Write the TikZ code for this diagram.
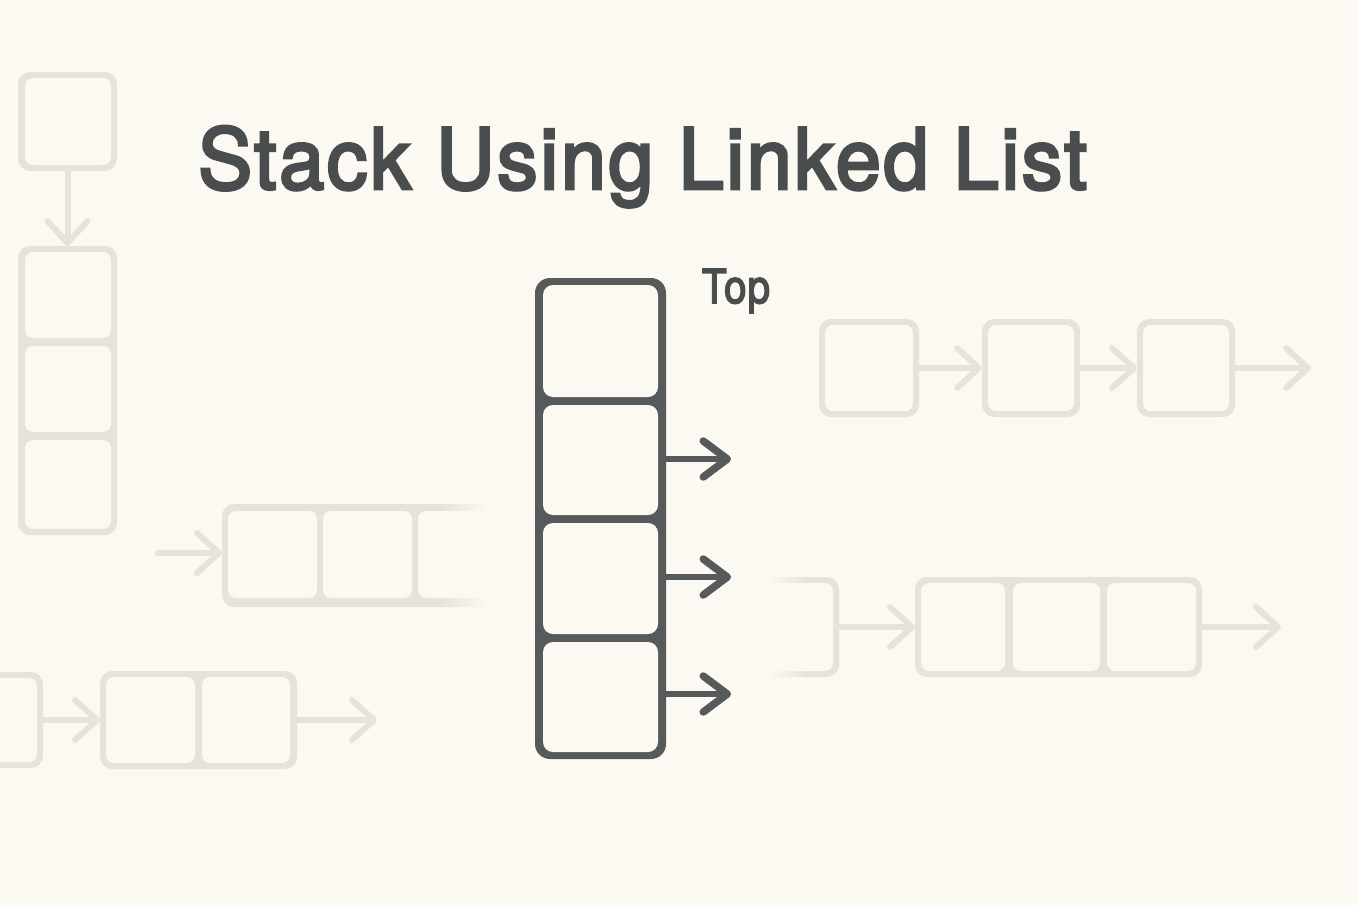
\documentclass[tikz,border=0pt]{standalone}
\usepackage{fontspec}
\usepackage{graphicx}
\newfontfamily\titlefont[FakeBold=3.5,LetterSpace=3]{TeX Gyre Heros}
\usetikzlibrary{arrows.meta,fit,fadings}
\definecolor{bg}{HTML}{FBF9F2}
\definecolor{faint}{HTML}{E6E3DB}
\definecolor{dark}{HTML}{565A5A}
\definecolor{ink}{HTML}{4A4D4D}
\tikzfading[name=opaqueR, left color=transparent!100, right color=transparent!0]
\tikzfading[name=opaqueL, left color=transparent!0, right color=transparent!100]
\tikzset{
  fframe/.style={fill=faint, draw=none, rounded corners=12pt, inner sep=0pt, outer sep=0pt},
  fcell/.style={fill=bg, draw=none, rounded corners=8pt, inner sep=0pt, outer sep=0pt},
  dframe/.style={fill=dark, draw=none, rounded corners=15pt, inner sep=0pt, outer sep=0pt},
  dcell/.style={fill=bg, draw=none, rounded corners=10pt, inner sep=0pt, outer sep=0pt},
  farrow/.style={draw=faint, line width=6pt, line cap=round,
    -{Straight Barb[length=22pt,width=40pt,round]}},
  darrow/.style={draw=dark, line width=6.5pt, line cap=round,
    -{Straight Barb[length=24pt,width=36pt,line width=7.5pt,round]}},
  txt/.style={inner sep=0pt, outer sep=0pt, anchor=base west, text=ink}
}
\begin{document}
\begin{tikzpicture}[x=1pt,y=-1pt]
\useasboundingbox (0,0) rectangle (1358,905);
\fill[bg] (0,0) rectangle (1358,905);
\clip (0,0) rectangle (1358,905);

% ---- faint background lists ----
% top-left single node and vertical list
\node[fframe, fit={(18,72)(117,171)}] (A) {};
\node[fcell, fit={(25,78)(111,165)}] (Ac) {};
\node[fframe, fit={(18,246)(117,535)}] (B) {};
\node[fcell, fit={(25,252)(111,338)}] (B1) {};
\node[fcell, fit={(25,346)(111,432)}] (B2) {};
\node[fcell, fit={(25,440)(111,529)}] (B3) {};
\draw[farrow] (A) -- (B);

% middle-left horizontal list (fading right)
\coordinate (cin) at (158,553);
\node[fframe, fit={(222,504)(500,607)}] (C) {};
\node[fcell, fit={(228,511)(317,598)}] (C1) {};
\node[fcell, fit={(323,511)(412,598)}] (C2) {};
\node[fcell, fit={(418,511)(494,598)}] (C3) {};
\draw[farrow] (cin) -- (cin -| C.west);
\fill[bg, path fading=opaqueR] (440,496) rectangle (486,615);
\fill[bg] (486,496) rectangle (520,615);

% bottom-left list
\node[fframe, fit={(-40,672)(43,768)}] (Dp) {};
\node[fcell, fit={(-40,678)(37,762)}] (Dpc) {};
\node[fframe, fit={(100,671)(297,769)}] (D) {};
\node[fcell, fit={(106,677)(195,763)}] (D1) {};
\node[fcell, fit={(202,677)(290,763)}] (D2) {};
\coordinate (dend) at (377,720);
\draw[farrow] (Dp) -- (D);
\draw[farrow] (D.east |- dend) -- (dend);

% right top list
\node[fframe, fit={(819,319)(919,417)}] (E1) {};
\node[fcell, fit={(825,325)(913,411)}] (E1c) {};
\node[fframe, fit={(982,319)(1080,417)}] (E2) {};
\node[fcell, fit={(988,325)(1074,411)}] (E2c) {};
\node[fframe, fit={(1137,319)(1235,417)}] (E3) {};
\node[fcell, fit={(1143,325)(1229,411)}] (E3c) {};
\coordinate (eend) at (1311,368);
\draw[farrow] (E1) -- (E2);
\draw[farrow] (E2) -- (E3);
\draw[farrow] (E3.east |- eend) -- (eend);

% right middle list (fading left)
\node[fframe, fit={(740,577)(839,677)}] (Fp) {};
\node[fcell, fit={(740,583)(833,671)}] (Fpc) {};
\node[fframe, fit={(915,577)(1202,677)}] (F) {};
\node[fcell, fit={(921,583)(1005,671)}] (F1) {};
\node[fcell, fit={(1013,583)(1100,671)}] (F2) {};
\node[fcell, fit={(1107,583)(1196,671)}] (F3) {};
\coordinate (fend) at (1281,627);
\draw[farrow] (Fp) -- (F);
\draw[farrow] (F.east |- fend) -- (fend);
\fill[bg] (735,570) rectangle (770,684);
\fill[bg, path fading=opaqueL] (770,570) rectangle (808,684);

% ---- main stack ----
\node[dframe, fit={(535,278)(666,759)}] (stack) {};
\node[dcell, fit={(543,285)(658,397)}] (s1) {};
\node[dcell, fit={(543,405)(658,515)}] (s2) {};
\node[dcell, fit={(543,523)(658,634)}] (s3) {};
\node[dcell, fit={(543,642)(658,752)}] (s4) {};
\coordinate (t2) at (731,459);
\coordinate (t3) at (731,577);
\coordinate (t4) at (731,694);
\draw[darrow] (stack.east |- t2) -- (t2);
\draw[darrow] (stack.east |- t3) -- (t3);
\draw[darrow] (stack.east |- t4) -- (t4);

% ---- texts ----
\node[txt] (title) at (198,189) {\resizebox{889pt}{63pt}{\titlefont Stack Using Linked List}};
\node[txt] (top) at (702,303) {\resizebox{68pt}{34pt}{\titlefont Top}};
\end{tikzpicture}
\end{document}
